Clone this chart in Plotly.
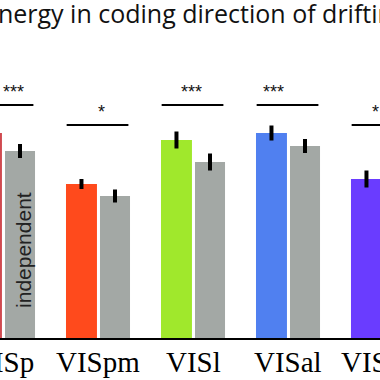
import plotly.graph_objects as go

# ---- data ----
areas = ["VISp", "VISpm", "VISl", "VISal", "VISam"]
area_colors = ["#d04a50", "#ff4a1c", "#a0e82c", "#5080f0", "#6a3cff"]
coding_vals = [0.82, 0.616, 0.792, 0.82, 0.636]
coding_err = [0.03, 0.02, 0.034, 0.03, 0.034]
indep_vals = [0.748, 0.568, 0.704, 0.768, 0.70]
indep_err = [0.028, 0.026, 0.034, 0.028, 0.03]
sig_labels = ["***", "*", "***", "***", "*"]
sig_heights = [0.932, 0.852, 0.932, 0.932, 0.852]
title_text = "Energy in coding direction of drifting gratings"
bar_note = "independent"

xpos = list(range(len(areas)))
gray = "#a3a8a5"
XMIN, XMAX = -3 / 95, 377 / 95
YMAX = 1.192


def xpaper(v):
    return (v - XMIN) / (XMAX - XMIN)


def ypaper(v):
    return v / YMAX


fig = go.Figure()
fig.add_trace(go.Bar(
    x=xpos, y=coding_vals, offset=-0.337, width=0.326,
    marker=dict(color=area_colors, line=dict(width=0)),
    error_y=dict(type="data", array=coding_err, color="black", thickness=4, width=0),
    showlegend=False,
))
fig.add_trace(go.Bar(
    x=xpos, y=indep_vals, offset=0.021, width=0.316,
    marker=dict(color=gray, line=dict(width=0)),
    error_y=dict(type="data", array=indep_err, color="black", thickness=4, width=0),
    showlegend=False,
))

shapes = []
annotations = []
for k, (lab, h) in enumerate(zip(sig_labels, sig_heights)):
    shapes.append(dict(type="line", xref="x", yref="y", x0=k - 0.33, x1=k + 0.32,
                       y0=h, y1=h, line=dict(color="black", width=2)))
    annotations.append(dict(x=xpaper(k - 0.02), y=ypaper(h + 0.004), xref="paper", yref="paper",
                            text=lab, showarrow=False, yanchor="bottom",
                            font=dict(family="Liberation Sans", size=18, color="#111")))

for k, name in enumerate(areas):
    annotations.append(dict(x=xpaper(k), y=-0.081, xref="paper", yref="paper", text=name,
                            showarrow=False, yanchor="middle", xanchor="center",
                            font=dict(family="Liberation Serif", size=29, color="black")))

annotations.append(dict(x=0.21, y=0.352, xref="x", yref="y", text=bar_note,
                        textangle=-90, showarrow=False,
                        font=dict(family="Liberation Sans", size=21, color="#222")))

annotations.append(dict(x=-0.048, y=1.091, xref="paper", yref="paper", text=title_text,
                        showarrow=False, xanchor="left", yanchor="middle",
                        font=dict(family="Open Sans", size=25, color="#111")))

fig.update_layout(
    width=380, height=380,
    margin=dict(l=0, r=0, t=40, b=42),
    paper_bgcolor="white", plot_bgcolor="white",
    barmode="overlay",
    shapes=shapes, annotations=annotations,
    xaxis=dict(range=[XMIN, XMAX], showticklabels=False, ticks="",
               showgrid=False, zeroline=False, showline=True,
               linecolor="black", linewidth=2),
    yaxis=dict(range=[0, YMAX], showticklabels=False, ticks="",
               showgrid=False, zeroline=False, showline=False),
)

fig.write_html("out.html")
